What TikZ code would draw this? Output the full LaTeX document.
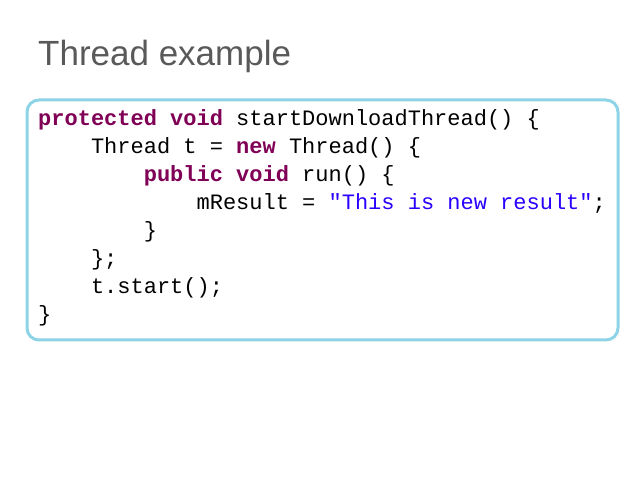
\documentclass[tikz,border=0pt]{standalone}
\usepackage{fontspec}
\setmainfont{Liberation Sans}
\setmonofont{Liberation Mono}
\definecolor{kw}{HTML}{7F0055}
\definecolor{str}{HTML}{2A00FF}
\definecolor{boxc}{HTML}{8ED4E6}
\definecolor{ttl}{HTML}{595959}
\newcommand{\kw}[1]{\textcolor{kw}{\textbf{#1}}}
\newcommand{\str}[1]{\textcolor{str}{#1}}
\begin{document}
\begin{tikzpicture}[x=1pt,y=-1pt,
  codeline/.style={anchor=base west,inner sep=0pt,font=\ttfamily\fontsize{22}{22}\selectfont},
  codebox/.style={draw=boxc,line width=3pt,rounded corners=12pt}]
\useasboundingbox (0,0) rectangle (638,478);
\node[anchor=base west,inner sep=0pt,text=ttl,font=\fontsize{35}{35}\selectfont] (title) at (38,66) {Thread example};
\draw[codebox] (27,100) rectangle (618,340);
\node[codeline] (l1) at (38,126) {\kw{protected} \kw{void} startDownloadThread() \{};
\node[codeline] (l2) at (38,154) {\phantom{xxxx}Thread t = \kw{new} Thread() \{};
\node[codeline] (l3) at (38,182) {\phantom{xxxxxxxx}\kw{public} \kw{void} run() \{};
\node[codeline] (l4) at (38,210) {\phantom{xxxxxxxxxxxx}mResult = \str{"This is new result"};};
\node[codeline] (l5) at (38,238) {\phantom{xxxxxxxx}\}};
\node[codeline] (l6) at (38,266) {\phantom{xxxx}\};};
\node[codeline] (l7) at (38,294) {\phantom{xxxx}t.start();};
\node[codeline] (l8) at (38,322) {\}};
\end{tikzpicture}
\end{document}
